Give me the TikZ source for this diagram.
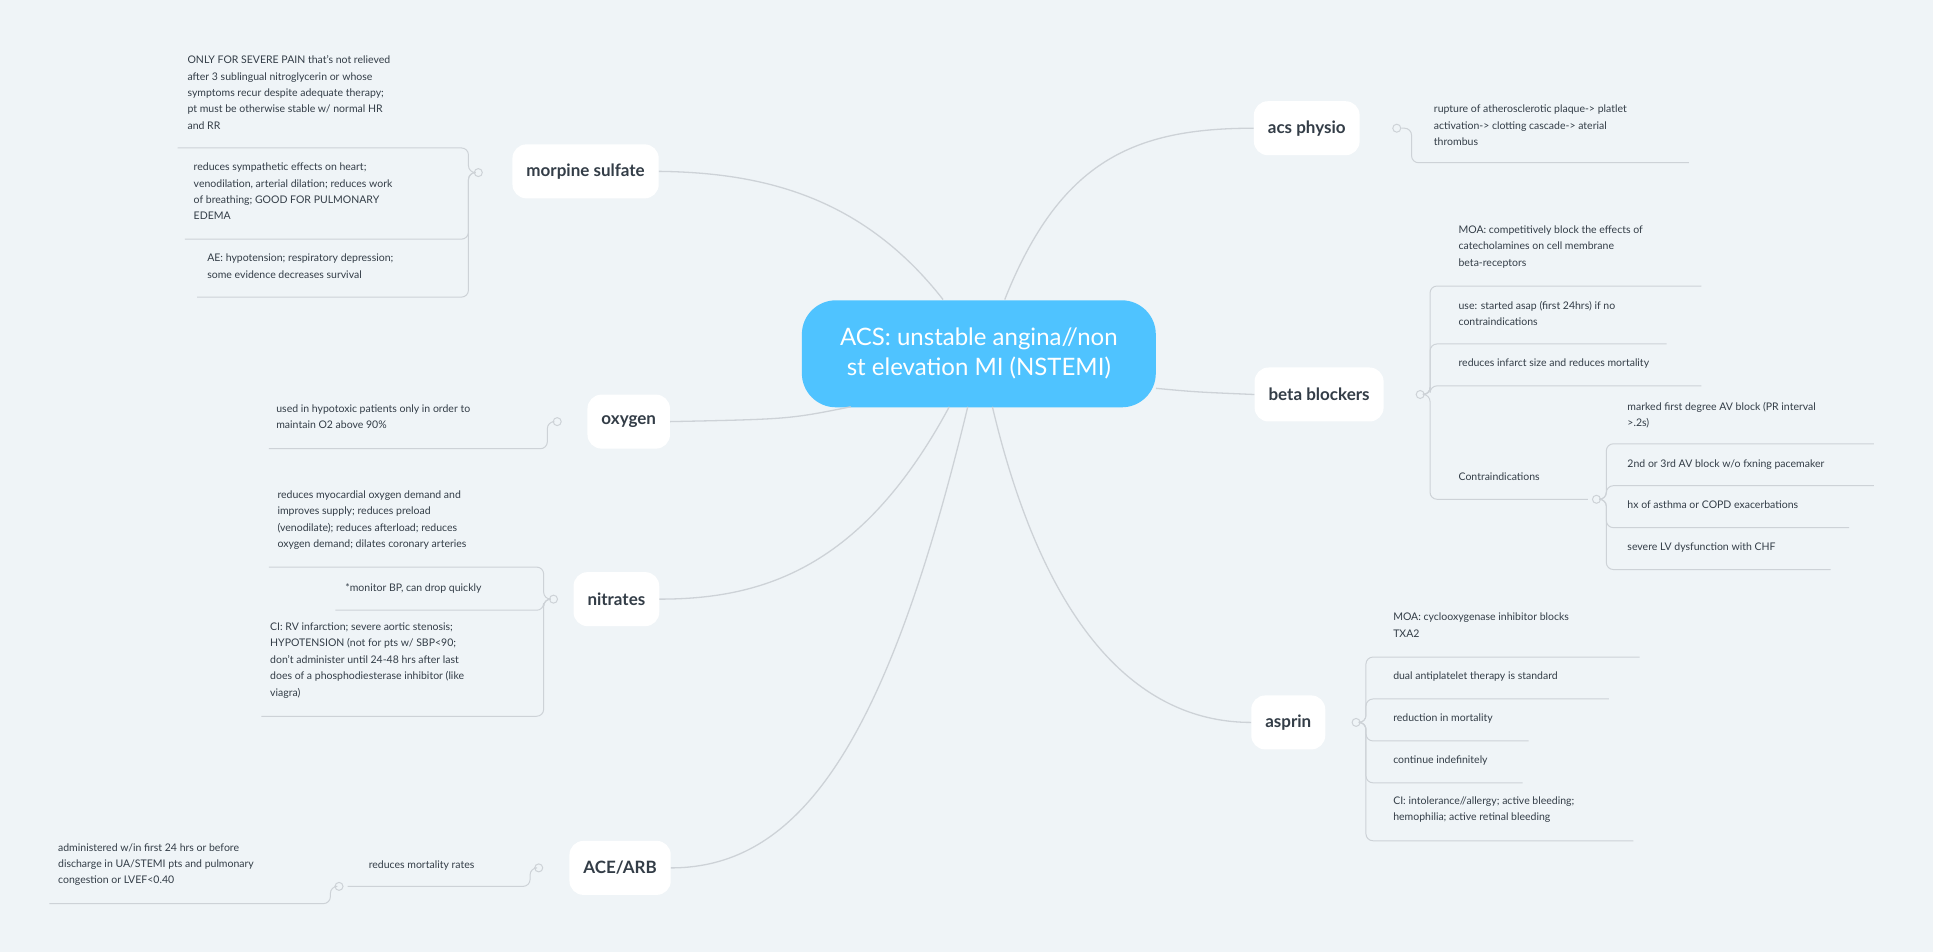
\documentclass[tikz,border=0pt]{standalone}
\usepackage{fontspec}
\setmainfont{Lato}
\definecolor{bg}{HTML}{EFF4F7}
\definecolor{cent}{HTML}{4FC3FF}
\definecolor{ln}{HTML}{CDD2D7}
\definecolor{tx}{HTML}{333D47}
\begin{document}
\begin{tikzpicture}[x=1.233pt,y=-1.233pt,
  leaf/.style={anchor=north west,inner sep=0pt,align=left,text=tx,font=\fontsize{10.5pt}{16.4pt}\selectfont},
  br/.style={fill=white,rounded corners=14pt,minimum height=54pt,inner xsep=14pt,text=tx,font=\fontsize{17pt}{20pt}\selectfont\bfseries},
  conn/.style={draw=ln,line width=1.3pt},
  sub/.style={draw=ln,line width=1pt,rounded corners=7pt},
  dot/.style={circle,draw=ln,fill=bg,line width=1pt,minimum size=8pt,inner sep=0pt}]
\fill[bg] (0,0) rectangle (1568,772);
\node[fill=cent,rounded corners=34pt,minimum width=354pt,minimum height=107pt,align=center,text=white,font=\fontsize{24pt}{30pt}\selectfont] (c) at (794,287) {ACS: unstable angina//non\\st elevation MI (NSTEMI)};
% branches
\node[br] (acs) at (1060,104) {acs physio};
\node[br] (bb) at (1070,320) {beta blockers};
\node[br] (asp) at (1045,586) {asprin};
\node[br] (ace) at (503,704) {ACE/ARB};
\node[br] (nit) at (500,486) {nitrates};
\node[br] (oxy) at (510,342) {oxygen};
\node[br] (mor) at (475,139) {morpine sulfate};
% main connectors
\draw[conn] (815,243) .. controls (860,130) and (920,104) .. (acs.west);
\draw[conn] (c.east|-0,315) .. controls (970,318) .. (bb.west);
\draw[conn] (805,330) .. controls (850,520) and (930,586) .. (asp.west);
\draw[conn] (785,330) .. controls (720,600) and (650,704) .. (ace.east);
\draw[conn] (770,330) .. controls (700,460) and (620,486) .. (nit.east);
\draw[conn] (690,330) .. controls (640,340) .. (oxy.east);
\draw[conn] (765,243) .. controls (700,160) and (620,140) .. (mor.east);
% acs physio
\node[dot] (d1) at (1133,104) {};
\node[leaf] (a1) at (1163,85) {rupture of atherosclerotic plaque-> platlet\\activation-> clotting cascade-> aterial\\thrombus};
\draw[sub] (d1) -- (1145,104) |- (1370,132);
% beta blockers
\node[dot] (d2) at (1152,320) {};
\node[leaf] (b1) at (1183,183) {MOA: competitively block the effects of\\catecholamines on cell membrane\\beta-receptors};
\node[leaf] (b2) at (1183,244) {use: started asap (first 24hrs) if no\\contraindications};
\node[leaf] (b3) at (1183,291) {reduces infarct size and reduces mortality};
\node[leaf] (b4) at (1183,383) {Contraindications};
\draw[sub] (d2) -- (1160,320) |- (1380,232);
\draw[sub] (d2) -- (1160,320) |- (1352,279);
\draw[sub] (d2) -- (1160,320) |- (1380,313);
\draw[sub] (d2) -- (1160,320) |- (1288,405);
\node[dot] (d3) at (1295,405) {};
\node[leaf] (b5) at (1320,326) {marked first degree AV block (PR interval\\>.2s)};
\node[leaf] (b6) at (1320,373) {2nd or 3rd AV block w/o fxning pacemaker};
\node[leaf] (b7) at (1320,406) {hx of asthma or COPD exacerbations};
\node[leaf] (b8) at (1320,440) {severe LV dysfunction with CHF};
\draw[sub] (d3) -- (1303,405) |- (1520,360);
\draw[sub] (d3) -- (1303,405) |- (1520,394);
\draw[sub] (d3) -- (1303,405) |- (1500,428);
\draw[sub] (d3) -- (1303,405) |- (1485,462);
% asprin
\node[dot] (d4) at (1100,586) {};
\node[leaf] (s1) at (1130,497) {MOA: cyclooxygenase inhibitor blocks\\TXA2};
\node[leaf] (s2) at (1130,545) {dual antiplatelet therapy is standard};
\node[leaf] (s3) at (1130,579) {reduction in mortality};
\node[leaf] (s4) at (1130,613) {continue indefinitely};
\node[leaf] (s5) at (1130,646) {CI: intolerance//allergy; active bleeding;\\hemophilia; active retinal bleeding};
\draw[sub] (d4) -- (1108,586) |- (1330,533);
\draw[sub] (d4) -- (1108,586) |- (1305,567);
\draw[sub] (d4) -- (1108,586) |- (1240,601);
\draw[sub] (d4) -- (1108,586) |- (1235,635);
\draw[sub] (d4) -- (1108,586) |- (1325,682);
% morphine
\node[dot] (d5) at (388,140) {};
\node[leaf] (m1) at (152,45) {ONLY FOR SEVERE PAIN that's not relieved\\after 3 sublingual nitroglycerin or whose\\symptoms recur despite adequate therapy;\\pt must be otherwise stable w/ normal HR\\and RR};
\node[leaf] (m2) at (157,132) {reduces sympathetic effects on heart;\\venodilation, arterial dilation; reduces work\\of breathing; GOOD FOR PULMONARY\\EDEMA};
\node[leaf] (m3) at (168,206) {AE: hypotension; respiratory depression;\\some evidence decreases survival};
\draw[sub] (d5) -- (380,140) |- (144,120);
\draw[sub] (d5) -- (380,140) |- (150,194);
\draw[sub] (d5) -- (380,140) |- (160,241);
% oxygen
\node[dot] (d6) at (452,342) {};
\node[leaf] (o1) at (224,328) {used in hypotoxic patients only in order to\\maintain O2 above 90\%};
\draw[sub] (d6) -- (444,342) |- (218,364);
% nitrates
\node[dot] (d7) at (449,486) {};
\node[leaf] (n1) at (225,398) {reduces myocardial oxygen demand and\\improves supply; reduces preload\\(venodilate); reduces afterload; reduces\\oxygen demand; dilates coronary arteries};
\node[leaf] (n2) at (280,473) {*monitor BP, can drop quickly};
\node[leaf] (n3) at (219,505) {CI: RV infarction; severe aortic stenosis;\\HYPOTENSION (not for pts w/ SBP<90;\\don't administer until 24-48 hrs after last\\does of a phosphodiesterase inhibitor (like\\viagra)};
\draw[sub] (d7) -- (441,486) |- (218,460);
\draw[sub] (d7) -- (441,486) |- (272,495);
\draw[sub] (d7) -- (441,486) |- (212,581);
% ace
\node[dot] (d8) at (437,704) {};
\node[leaf] (e1) at (299,698) {reduces mortality rates};
\draw[sub] (d8) -- (430,704) |- (282,719);
\node[dot] (d9) at (275,719) {};
\node[leaf] (e2) at (47,684) {administered w/in first 24 hrs or before\\discharge in UA/STEMI pts and pulmonary\\congestion or LVEF<0.40};
\draw[sub] (d9) -- (268,719) |- (40,733);
\end{tikzpicture}
\end{document}
